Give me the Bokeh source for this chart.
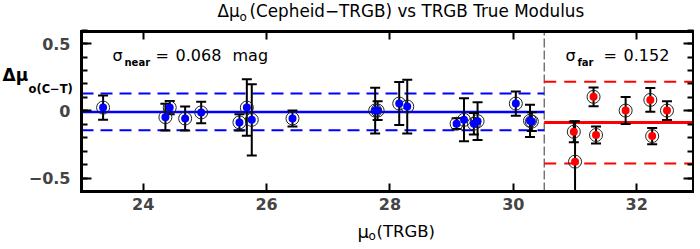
from bokeh.plotting import figure
from bokeh.models import Range1d, LinearAxis, FixedTicker, Label
from bokeh.embed import file_html
from bokeh.resources import INLINE

# ---- data ----
near_x = [23.35, 24.36, 24.43, 24.68, 24.94, 25.56, 25.68, 25.76, 26.42, 27.76,
          27.80, 28.15, 28.28, 29.08, 29.20, 29.36, 29.42, 30.04, 30.27, 30.30]
near_y = [0.024, -0.047, 0.024, -0.057, -0.012, -0.086, 0.024, -0.067, -0.057, 0.002,
          0.002, 0.054, 0.032, -0.096, -0.067, -0.096, -0.077, 0.054, -0.074, -0.080]
near_err = [0.09, 0.10, 0.05, 0.09, 0.08, 0.06, 0.21, 0.265, 0.06, 0.17,
            0.07, 0.16, 0.20, 0.04, 0.16, 0.08, 0.14, 0.09, 0.12, 0.07]

far_x = [30.98, 31.00, 31.30, 31.34, 31.82, 32.22, 32.25, 32.49]
far_y = [-0.156, -0.378, 0.104, -0.180, 0.002, 0.081, -0.188, 0.002]
far_err = [0.077, 0.30, 0.07, 0.063, 0.10, 0.088, 0.06, 0.07]

near_mean = -0.008
sigma_near = 0.068
far_mean = -0.087
sigma_far = 0.152
x_split = 30.5

x_min, x_max = 23.0, 32.92
y_min, y_max = -0.6, 0.59
x_ticks = [24, 26, 28, 30, 32]
y_ticks = [-0.5, 0, 0.5]
y_minor = [round(-0.6 + 0.1 * i, 1) for i in range(13)]
y_tick_labels = {-0.5: "\u22120.5", 0: "0", 0.5: "0.5"}

BLUE = "#0000ff"
RED = "#ff0000"
FONT = "DejaVu Sans"

# ---- layout (pixels) ----
W, H = 694, 245
BOX_L, BOX_R, BOX_T, BOX_B = 81, 693, 31, 191
sx = (BOX_R - BOX_L) / (x_max - x_min)
sy = (BOX_B - BOX_T) / (y_max - y_min)
xr = Range1d(x_min - BOX_L / sx, x_max + (W - BOX_R) / sx)
yr = Range1d(y_min - (H - BOX_B) / sy, y_max + BOX_T / sy)

p = figure(width=W, height=H, x_range=xr, y_range=yr,
           output_backend="svg", toolbar_location=None,
           x_axis_location=None, y_axis_location=None,
           min_border=0, min_border_left=0, min_border_right=0,
           min_border_top=0, min_border_bottom=0)
p.grid.visible = False
p.outline_line_color = None
p.background_fill_color = "white"
p.border_fill_color = "white"

def make_x(loc, labels=True):
    ax = LinearAxis(fixed_location=loc, bounds=(x_min, x_max))
    ax.ticker = FixedTicker(ticks=x_ticks)
    ax.major_tick_in = 8
    ax.major_tick_out = 0
    ax.minor_tick_line_color = None
    ax.axis_line_width = 3
    ax.axis_line_cap = "square"
    ax.major_tick_line_width = 2
    ax.major_label_text_font = FONT
    ax.major_label_text_font_style = "bold"
    ax.major_label_text_font_size = "16px"
    ax.major_label_standoff = 6
    if not labels:
        ax.major_label_text_color = None
    return ax

def make_y(loc, labels=True):
    ax = LinearAxis(fixed_location=loc, bounds=(y_min, y_max))
    ax.ticker = FixedTicker(ticks=y_ticks, minor_ticks=y_minor)
    ax.major_tick_in = 10
    ax.major_tick_out = 0
    ax.minor_tick_in = 6
    ax.minor_tick_out = 0
    ax.axis_line_width = 3
    ax.axis_line_cap = "square"
    ax.major_tick_line_width = 2
    ax.minor_tick_line_width = 2
    ax.major_label_overrides = y_tick_labels
    ax.major_label_text_font = FONT
    ax.major_label_text_font_style = "bold"
    ax.major_label_text_font_size = "16px"
    ax.major_label_standoff = 11
    if not labels:
        ax.major_label_text_color = None
    return ax

p.add_layout(make_x(y_min), "below")
p.add_layout(make_x(y_max, labels=False), "above")
p.add_layout(make_y(x_min), "left")
p.add_layout(make_y(x_max, labels=False), "right")

# split marker
p.segment(x0=[x_split], y0=[y_min], x1=[x_split], y1=[y_max],
          line_color="#333333", line_width=1, line_dash="9 3")

# mean and 2-sigma lines
p.line([x_min, x_split], [near_mean, near_mean], line_color=BLUE, line_width=2.5)
for s in (1, -1):
    yv = near_mean + s * 2 * sigma_near
    p.line([x_min, x_split], [yv, yv], line_color=BLUE, line_width=2, line_dash="12 7")
p.line([x_split, x_max], [far_mean, far_mean], line_color=RED, line_width=3)
for s in (1, -1):
    yv = far_mean + s * 2 * sigma_far
    p.line([x_split, x_max], [yv, yv], line_color=RED, line_width=2, line_dash="12 8")

def points(xs, ys, es, color):
    lo = [y - e for y, e in zip(ys, es)]
    hi = [y + e for y, e in zip(ys, es)]
    lo_in = [max(v, y_min) for v in lo]
    p.segment(x0=xs, y0=lo_in, x1=xs, y1=hi, line_color="black", line_width=2)
    cx = [x for x, v in zip(xs, lo) if v >= y_min]
    cy = [v for v in lo if v >= y_min]
    p.scatter(cx, cy, marker="dash", size=10, line_color="black", line_width=2)
    p.scatter(xs, hi, marker="dash", size=10, line_color="black", line_width=2)
    p.scatter(xs, ys, marker="circle", size=13, fill_color=None, line_color="#222222", line_width=1)
    p.scatter(xs, ys, marker="circle", size=8, fill_color=color, line_color=None)

points(near_x, near_y, near_err, BLUE)
points(far_x, far_y, far_err, RED)

# text helper: page pixel coordinates of the baseline-left point
def lab(text, px, py, size, bold=False):
    shift = 0.36 * size  # renderer places text lower than the nominal baseline
    p.add_layout(Label(x=px, y=H - (py - shift), x_units="screen", y_units="screen", text=text,
                       text_font=FONT, text_font_size=f"{size}px",
                       text_font_style="bold" if bold else "normal",
                       text_color="black", text_align="left", text_baseline="alphabetic"))

# title
lab("\u0394\u03bc", 217, 17, 16.8)
lab("o", 239, 21, 12)
lab("(Cepheid\u2212TRGB) vs TRGB True Modulus", 249, 17, 16.8)

# y label
lab("\u0394\u03bc", 2, 81, 17, bold=True)
lab("o(C\u2212T)", 28, 93, 11.5, bold=True)

# x label
lab("\u03bc", 357, 237, 18)
lab("o", 368, 240, 12)
lab("(TRGB)", 376, 237, 16.5)

# sigma annotations
lab("\u03c3", 112, 60.5, 16)
lab("near", 124, 65.5, 10, bold=True)
lab("=", 155, 60.5, 16)
lab("0.068", 175, 60.5, 16)
lab("mag", 232, 60.5, 16)

lab("\u03c3", 565, 60.5, 16)
lab("far", 577, 65.5, 10, bold=True)
lab("=", 603, 60.5, 16)
lab("0.152", 623, 60.5, 16)

open("out.html", "w").write(file_html(p, INLINE))
